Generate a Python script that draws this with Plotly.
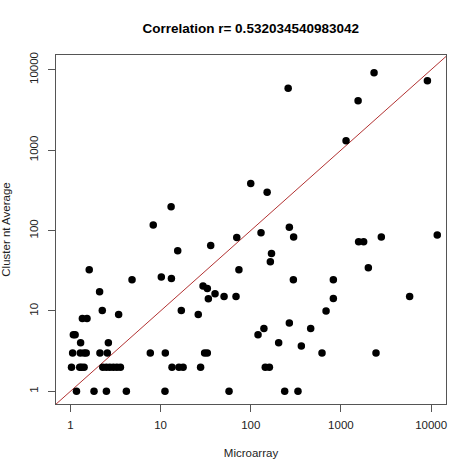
import plotly.graph_objects as go

# Data (Microarray vs Cluster nt Average)
microarray = [
    260, 2330, 9100, 1550, 1140, 100, 152, 13.1, 8.3,
    70, 36, 15.5, 1.62, 74, 4.83, 10.2, 13.2, 2.11, 29.6, 33, 33.9, 40.2, 50.6, 68.7,
    2.26, 3.43, 17, 26.2, 1.36, 1.53, 1.08, 1.13, 1.3, 2.64,
    1.06, 1.29, 1.42, 1.5, 2.13, 2.57, 7.7, 11.3, 30.8, 33,
    1.03, 1.27, 1.33, 1.42, 2.29, 2.51, 2.74, 3.0, 3.28, 3.59, 13.4, 16, 17.8, 27.8, 145, 161,
    1.17, 1.83, 2.51, 4.18, 11.2, 57.5, 238, 334,
    130, 268, 299, 1571, 1786, 2805, 11700, 170, 165, 2013, 297, 824, 824, 5780, 684,
    268, 462, 140, 120.5, 204, 364, 617, 2449,
]
cluster_nt_avg = [
    5900, 9200, 7300, 4100, 1310, 385, 300, 197, 117,
    82, 65, 56, 32.5, 32.5, 24.4, 26.4, 25.3, 17.3, 20.4, 19, 14.2, 16.4, 15.1, 15.1,
    10.1, 9.05, 10.1, 9.05, 8.07, 8.07, 5.06, 5.06, 4.03, 4.03,
    3, 3, 3, 3, 3, 3, 3, 3, 3, 3,
    2, 2, 2, 2, 2, 2, 2, 2, 2, 2, 2, 2, 2, 2, 2, 2,
    1, 1, 1, 1, 1, 1, 1, 1,
    94, 110, 83, 72.4, 72.4, 83, 88, 52, 41, 34.4, 24.4, 24.4, 14.3, 15.1, 10,
    7.07, 6.06, 6.06, 5.06, 4.03, 3.66, 3, 3,
]
title_text = "Correlation r= 0.532034540983042"
tick_vals = [1, 10, 100, 1000, 10000]
tick_text = ["1", "10", "100", "1000", "10000"]

x_range = [-0.159, 4.165]
y_range = [-0.157, 4.183]

FONT = "Liberation Sans, Arial, Helvetica, sans-serif"

fig = go.Figure()

# identity line y = x (abline in log space)
line_ends = [10 ** -0.5, 10 ** 4.5]
fig.add_trace(go.Scatter(
    x=line_ends, y=line_ends, mode="lines",
    line=dict(color="rgb(178,50,50)", width=1),
    hoverinfo="skip", showlegend=False,
))

fig.add_trace(go.Scatter(
    x=microarray, y=cluster_nt_avg, mode="markers",
    marker=dict(color="black", size=7.5, line=dict(width=0)),
    showlegend=False,
))

axis_common = dict(
    type="log", automargin=False,
    showgrid=False, zeroline=False,
    showline=True, linecolor="#555555", linewidth=1, mirror=True,
    ticks="outside", ticklen=7, tickwidth=1, tickcolor="#555555",
    tickvals=tick_vals, ticktext=tick_text,
    tickfont=dict(family=FONT, size=11.5, color="#222222"),
)

fig.update_layout(
    width=474, height=474,
    margin=dict(l=56, r=28, t=55, b=70),
    paper_bgcolor="white", plot_bgcolor="white",
    font=dict(family=FONT, color="#222222"),
    title=dict(text="<b>" + title_text + "</b>", x=0.529, xanchor="center",
               y=1 - 28 / 474, yanchor="middle",
               font=dict(family=FONT, size=13.5, color="black")),
    xaxis=dict(range=x_range, ticklabelstandoff=3,
               title=dict(text="Microarray", standoff=19,
                          font=dict(family=FONT, size=11.5, color="#222222")),
               **axis_common),
    yaxis=dict(range=y_range, tickangle=-90, ticklabelstandoff=5,
               title=dict(text="Cluster nt Average", standoff=15,
                          font=dict(family=FONT, size=11.5, color="#222222")),
               **axis_common),
)

fig.write_html("out.html")
